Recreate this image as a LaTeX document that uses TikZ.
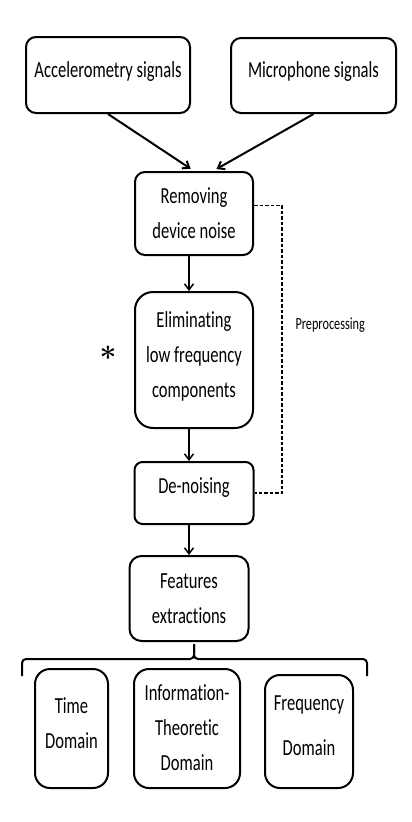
\documentclass[tikz,border=0pt]{standalone}
\usepackage{fontspec}
\usepackage{tikz}
\usetikzlibrary{positioning,arrows.meta}
\newfontfamily\boxfont{Carlito}[FakeStretch=0.72,Ligatures=NoCommon]
\newcommand{\boxtext}[2][0pt]{\raisebox{#1}[\height][\depth]{\begin{tabular}{@{}c@{}}#2\end{tabular}}}

\begin{document}
\begin{tikzpicture}[x=1pt,y=-1pt,
  mybox/.style={draw,line width=2pt,rounded corners=10pt,inner sep=0pt,font=\boxfont\fontsize{23}{35}\selectfont},
  myarrow/.style={-{Straight Barb[length=6pt,width=9pt]},line width=2pt},
 ]
\useasboundingbox (0,0) rectangle (412,822);

\node[mybox,minimum width=164pt,minimum height=76pt] (AS) at (108,75) {\boxtext[5pt]{Accelerometry signals}};
\node[mybox,minimum width=165pt,minimum height=75pt] (MS) at (313.5,75.5) {\boxtext[5pt]{Microphone signals}};

\node[mybox,minimum width=118pt,minimum height=83pt] (RN) at (194,213.5) {\boxtext{Removing\\device noise}};
\node[mybox,minimum width=118pt,minimum height=136pt,rounded corners=18pt,below=35pt of RN] (EL) {\boxtext[5pt]{Eliminating\\low frequency\\components}};
\node[mybox,minimum width=119pt,minimum height=62pt,rounded corners=8pt,below=32pt of EL] (DN) {\boxtext[7pt]{De-noising}};
\node[mybox,minimum width=119pt,minimum height=85pt,rounded corners=12pt,below=30pt of DN,xshift=-5pt] (FE) {\boxtext{Features\\extractions}};

\node[mybox,minimum width=73pt,minimum height=119pt,rounded corners=15pt] (TD) at (71.5,728.5) {\boxtext[5pt]{Time\\Domain}};
\node[mybox,minimum width=106pt,minimum height=119pt,rounded corners=15pt] (ID) at (187,728.5) {\boxtext{Information-\\Theoretic\\Domain}};
\node[mybox,minimum width=88pt,minimum height=113pt,rounded corners=15pt] (FD) at (309,731.5) {\boxtext[6pt]{Frequency\\[10pt]Domain}};

\node[font=\boxfont\fontsize{17}{17}\selectfont,anchor=west] (PP) at (292,325) {Preprocessing};
\node[font=\bfseries\fontsize{30}{30}\selectfont,inner sep=0pt] (ST) at (108,357) {*};

% inputs
\draw[myarrow,shorten >=4pt] (AS.south) -- (RN.north);
\draw[myarrow,shorten >=4pt] (MS.south) -- ([xshift=19pt]RN.north);

% chain
\draw[myarrow,line width=1.5pt] (RN.south -| FE.north) -- (EL.north -| FE.north);
\draw[myarrow,line width=1.5pt] (EL.south -| FE.north) -- (DN.north -| FE.north);
\draw[myarrow,line width=1.5pt] (DN.south -| FE.north) -- (FE.north);

% preprocessing bracket
\draw[line width=1.6pt,dash pattern=on 3.5pt off 2pt] ([yshift=8pt]RN.east) -- ++(28,0) |- (DN.east);

% brace
\coordinate (BL) at (22,676);
\coordinate (BR) at (367,676);
\coordinate (BM) at (194,659);
\coordinate (BT) at (194,644);
\draw[line width=2pt,rounded corners=4pt] (BL) -- (BL |- BM) -- (BM) -- (BT);
\draw[line width=2pt,rounded corners=4pt] (BR) -- (BR |- BM) -- (BM) -- (BT);

\end{tikzpicture}
\end{document}
